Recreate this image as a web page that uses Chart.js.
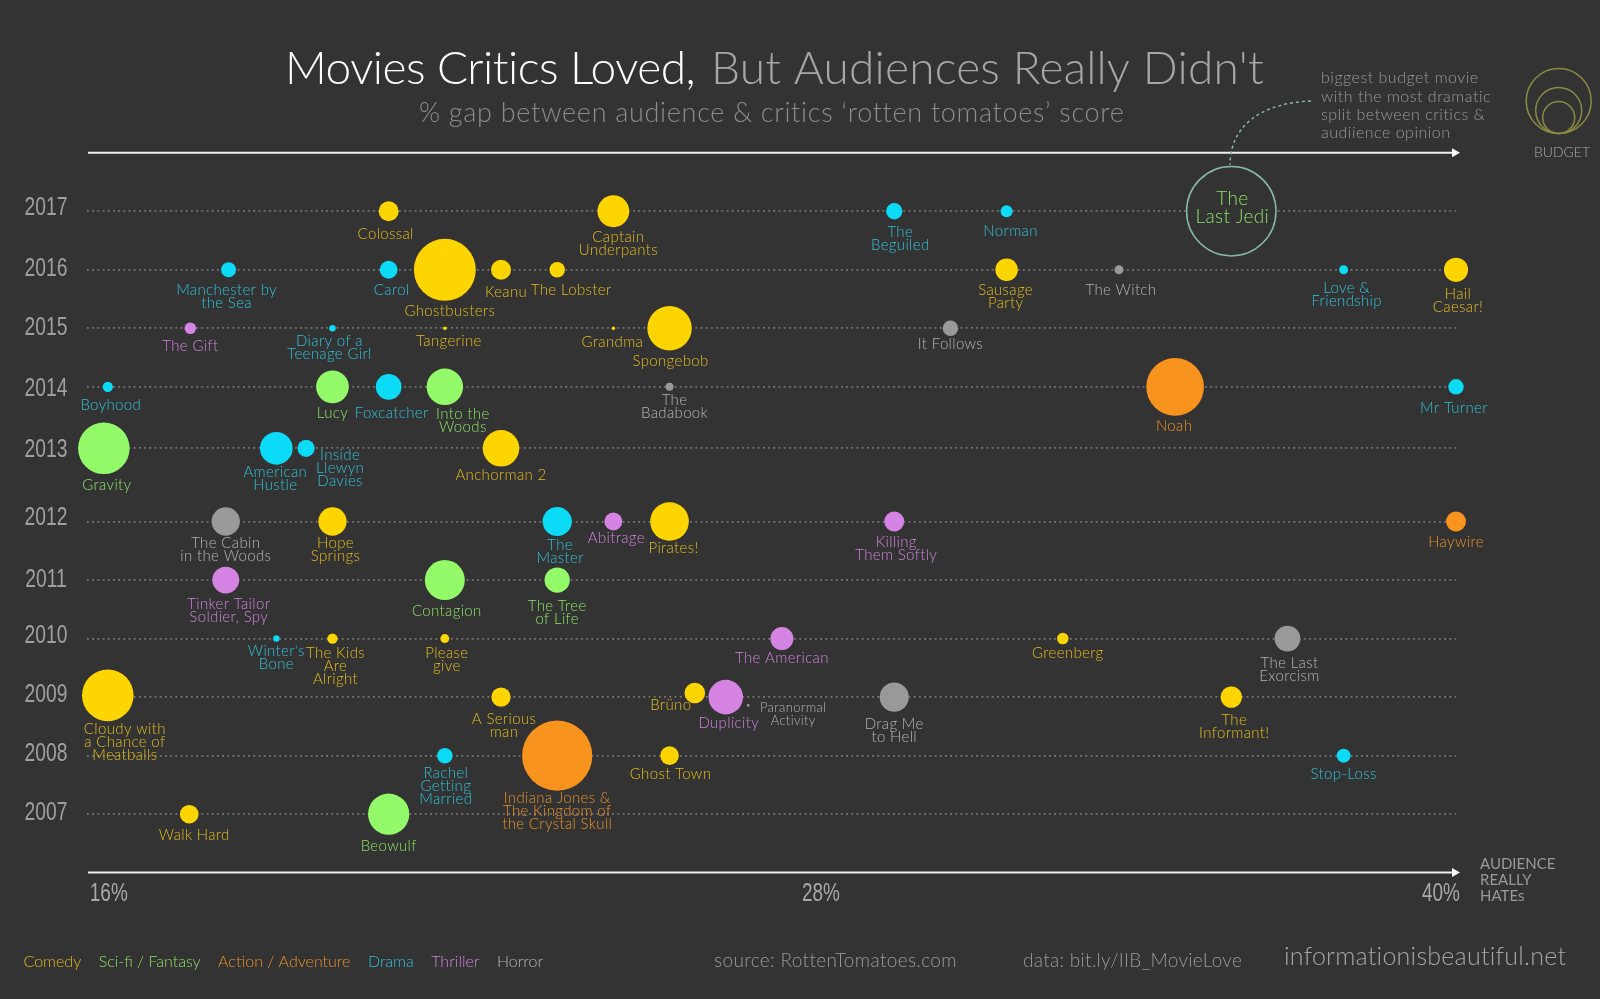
<!DOCTYPE html>
<html>
<head>
<meta charset="utf-8">
<title>Movies Critics Loved, But Audiences Really Didn't</title>
<script src="https://cdn.jsdelivr.net/npm/chart.js@4"></script>
<style>
  html, body { margin: 0; padding: 0; background: #333333; }
  canvas { display: block; }
</style>
</head>
<body>
<canvas id="chart" width="1600" height="999"></canvas>
<script>
// data
const genres = ['Comedy', 'Sci-fi / Fantasy', 'Action / Adventure', 'Drama', 'Thriller', 'Horror'];
const years = [2017, 2016, 2015, 2014, 2013, 2012, 2011, 2010, 2009, 2008, 2007];
const xTicks = [16, 28, 40];

const movieTitles = [
  'Colossal', 'Captain\nUnderpants', 'The\nBeguiled', 'Norman', 'The\nLast Jedi',
  'Manchester by\nthe Sea', 'Carol', 'Ghostbusters', 'Keanu', 'The Lobster', 'Sausage\nParty', 'The Witch', 'Love &\nFriendship', 'Hail\nCaesar!',
  'The Gift', 'Diary of a\nTeenage Girl', 'Tangerine', 'Grandma', 'Spongebob', 'It Follows',
  'Boyhood', 'Lucy', 'Foxcatcher', 'Into the\nWoods', 'The\nBadabook', 'Noah', 'Mr Turner',
  'Gravity', 'American\nHustle', 'Inside\nLlewyn\nDavies', 'Anchorman 2',
  'The Cabin\nin the Woods', 'Hope\nSprings', 'The\nMaster', 'Abitrage', 'Pirates!', 'Killing\nThem Softly', 'Haywire',
  'Tinker Tailor\nSoldier, Spy', 'Contagion', 'The Tree\nof Life',
  "Winter's\nBone", 'The Kids\nAre\nAlright', 'Please\ngive', 'The American', 'Greenberg', 'The Last\nExorcism',
  'Cloudy with\na Chance of\nMeatballs', 'A Serious\nman', 'Brüno', 'Duplicity', 'Paranormal\nActivity', 'Drag Me\nto Hell', 'The\nInformant!',
  'Rachel\nGetting\nMarried', 'Indiana Jones &\nThe Kingdom of\nthe Crystal Skull', 'Ghost Town', 'Stop-Loss',
  'Walk Hard', 'Beowulf'
];
const movieGenres = [
  0, 0, 3, 3, 1,
  3, 3, 0, 0, 0, 0, 5, 3, 0,
  4, 3, 0, 0, 0, 5,
  3, 1, 3, 1, 5, 2, 3,
  1, 3, 3, 0,
  5, 0, 3, 4, 0, 4, 2,
  4, 1, 1,
  3, 0, 0, 4, 0, 5,
  0, 0, 0, 4, 5, 5, 0,
  3, 2, 0, 3,
  0, 1
];
const movieYears = [
  2017, 2017, 2017, 2017, 2017,
  2016, 2016, 2016, 2016, 2016, 2016, 2016, 2016, 2016,
  2015, 2015, 2015, 2015, 2015, 2015,
  2014, 2014, 2014, 2014, 2014, 2014, 2014,
  2013, 2013, 2013, 2013,
  2012, 2012, 2012, 2012, 2012, 2012, 2012,
  2011, 2011, 2011,
  2010, 2010, 2010, 2010, 2010, 2010,
  2009, 2009, 2009, 2009, 2009, 2009, 2009,
  2008, 2008, 2008, 2008,
  2007, 2007
];
const movieGaps = [
  21, 25, 30, 32, 36,
  18.15, 21, 22, 23, 24, 32, 34, 38, 40,
  17.47, 20, 22, 25, 26, 31,
  16, 20, 21, 22, 26, 35, 40,
  15.93, 19, 19.53, 23,
  18.1, 20, 24, 25, 26, 30, 40,
  18.1, 22, 24,
  19, 20, 22, 28, 33, 37,
  16, 23, 26.45, 27, 27.4, 30, 36,
  22, 24, 26, 38,
  17.45, 21
];
const movieBudgets = [
  15, 38, 10, 5.4, 300,
  8.5, 12, 144, 15, 9, 19, 3, 3, 22,
  5, 1.6, 0.5, 0.5, 74, 9,
  4, 40, 25, 50, 2.4, 125, 9,
  100, 40, 11, 50,
  30, 30, 32, 12, 56, 15, 15,
  27, 60, 24,
  1.6, 4, 3, 20, 5, 25,
  100, 14, 16, 45, 0.3, 32, 17,
  9, 185, 13, 7.4,
  13, 64
];

// styling
const bg = '#333333';
const dotColors = ['#FFD500', '#93FA69', '#F8931E', '#0BDBF7', '#D684E3', '#999999'];
const textColors = ['#E3BC1C', '#8BE266', '#EA9026', '#2FC0D8', '#CF82DC', '#B4B4B4'];
const uiFont = 'Lato, "Open Sans", sans-serif';
const axisFont = '"Liberation Sans", sans-serif';

// the 2013 row and everything above it sit a bit higher than the regular spacing
const rowShift = y => y >= 2014 ? 0.3 : y === 2013 ? 0.25 : 0;
const rowNudge = { 'Brüno': 0.07, 'Paranormal\nActivity': -0.14, 'Cloudy with\na Chance of\nMeatballs': 0.03 };
const budgetRadius = b => 2.58 * Math.sqrt(b);

// label offset from the dot centre: dx, dy of the first line
const labelOffsets = {
  'Colossal': [-3, 23], 'Captain\nUnderpants': [5, 26], 'The\nBeguiled': [6, 21], 'Norman': [4, 20], 'The\nLast Jedi': [1, -12],
  'Manchester by\nthe Sea': [-2, 20], 'Carol': [3, 20], 'Ghostbusters': [5, 41], 'Keanu': [5, 22], 'The Lobster': [14, 20],
  'Sausage\nParty': [-1, 20], 'The Witch': [2, 20], 'Love &\nFriendship': [3, 18], 'Hail\nCaesar!': [2, 24],
  'The Gift': [0, 18], 'Diary of a\nTeenage Girl': [-3, 13], 'Tangerine': [4, 13], 'Grandma': [-1, 14], 'Spongebob': [1, 33], 'It Follows': [0, 16],
  'Boyhood': [3, 18], 'Lucy': [0, 26], 'Foxcatcher': [3, 26], 'Into the\nWoods': [18, 27], 'The\nBadabook': [5, 13], 'Noah': [-1, 39], 'Mr Turner': [-2, 21],
  'Gravity': [3, 37], 'American\nHustle': [-1, 24], 'Inside\nLlewyn\nDavies': [34, 7], 'Anchorman 2': [0, 27],
  'The Cabin\nin the Woods': [0, 22], 'Hope\nSprings': [3, 22], 'The\nMaster': [3, 24], 'Abitrage': [3, 17], 'Pirates!': [4, 27], 'Killing\nThem Softly': [2, 21], 'Haywire': [0, 21],
  'Tinker Tailor\nSoldier, Spy': [3, 24], 'Contagion': [2, 31], 'The Tree\nof Life': [0, 26],
  "Winter's\nBone": [0, 12.5], 'The Kids\nAre\nAlright': [3, 15], 'Please\ngive': [2, 15], 'The American': [0, 20], 'Greenberg': [5, 15], 'The Last\nExorcism': [2, 25],
  'Cloudy with\na Chance of\nMeatballs': [17, 34], 'A Serious\nman': [3, 22], 'Brüno': [-24, 12], 'Duplicity': [3, 26], 'Paranormal\nActivity': [45, 3], 'Drag Me\nto Hell': [0, 27], 'The\nInformant!': [3, 23],
  'Rachel\nGetting\nMarried': [1, 18], 'Indiana Jones &\nThe Kingdom of\nthe Crystal Skull': [0, 43], 'Ghost Town': [1, 19], 'Stop-Loss': [0, 19],
  'Walk Hard': [5, 21], 'Beowulf': [0, 32]
};
const xTickShift = { 16: 1, 28: 39, 40: -15 };
// year labels do not sit exactly on their rows in the original
const yearLabelShift = { 2017: -3, 2016: -1, 2015: 0, 2014: 2, 2013: 2, 2012: -3, 2011: 0, 2010: -2, 2009: -2, 2008: -2, 2007: -1 };

function text(ctx, str, x, y, font, color, align, spacing) {
  ctx.font = font;
  ctx.fillStyle = color;
  ctx.textAlign = align || 'left';
  ctx.textBaseline = 'middle';
  ctx.letterSpacing = (spacing || 0) + 'px';
  ctx.fillText(str, x, y);
  ctx.letterSpacing = '0px';
}

// no condensed face is installed, so axis numbers get squeezed sideways
function narrowText(ctx, str, x, y, size, color, squeeze) {
  ctx.save();
  ctx.translate(x, y);
  ctx.scale(squeeze, 1);
  text(ctx, str, 0, 0, size + 'px ' + axisFont, color, 'center');
  ctx.restore();
}

function arrowLine(ctx, x0, x1, y) {
  ctx.strokeStyle = '#eeeeee';
  ctx.lineWidth = 2;
  ctx.beginPath();
  ctx.moveTo(x0, y);
  ctx.lineTo(x1 - 4, y);
  ctx.stroke();
  ctx.fillStyle = '#ffffff';
  ctx.beginPath();
  ctx.moveTo(x1 + 2, y);
  ctx.lineTo(x1 - 6, y - 4.5);
  ctx.lineTo(x1 - 6, y + 4.5);
  ctx.fill();
}

// dot labels sit on top of everything
const movieLabels = {
  id: 'movieLabels',
  afterDatasetsDraw(chart) {
    const ctx = chart.ctx;
    const sx = chart.scales.x, sy = chart.scales.y;
    ctx.save();
    movieTitles.forEach((title, i) => {
      const off = labelOffsets[title];
      const px = sx.getPixelForValue(movieGaps[i]) + off[0];
      const py = sy.getPixelForValue(rowOf(i)) + off[1];
      const big = title === 'The\nLast Jedi';
      const small = title === 'Paranormal\nActivity';
      const font = big ? '300 19px ' + uiFont : small ? '300 13px ' + uiFont : '300 15px ' + uiFont;
      const lh = big ? 18 : 13;
      title.split('\n').forEach((line, n) => {
        text(ctx, line, px, py + n * lh, font, textColors[movieGenres[i]], 'center', big ? 0.3 : 0.35);
      });
    });
    ctx.restore();
  }
};

// title, arrows, budget key, notes and footer
const furniture = {
  id: 'furniture',
  beforeDatasetsDraw(chart) {
    const ctx = chart.ctx;
    const { left, right, top, bottom } = chart.chartArea;
    ctx.save();
    arrowLine(ctx, left + 1, right + 2, top);
    arrowLine(ctx, left + 1, right + 2, bottom);
    ctx.restore();
  },
  afterDraw(chart) {
    const ctx = chart.ctx;
    const sx = chart.scales.x, sy = chart.scales.y;
    const { bottom } = chart.chartArea;
    ctx.save();

    // title in two colours
    const titleFont = '300 46px ' + uiFont;
    text(ctx, 'Movies Critics Loved,', 285, 69, titleFont, '#ffffff', 'left', -0.5);
    text(ctx, "But Audiences Really Didn't", 711, 69, titleFont, '#a6a6a6', 'left', 0.2);
    text(ctx, '% gap between audience & critics ‘rotten tomatoes’ score', 419, 113, '300 27px ' + uiFont, '#8c8c8c', 'left', 0.7);

    // year labels and % ticks
    sy.ticks.forEach(t => {
      const year = Math.floor(t.value);
      narrowText(ctx, String(year), 46, sy.getPixelForValue(t.value) + yearLabelShift[year], 25, '#a0a0a0', 0.77);
    });
    xTicks.forEach(v => {
      narrowText(ctx, v + '%', sx.getPixelForValue(v) + xTickShift[v], bottom + 21, 26, '#a8a8a8', 0.73);
    });
    ['AUDIENCE', 'REALLY', 'HATEs'].forEach((s, n) => {
      text(ctx, s, 1480, 864 + n * 16, '15px ' + uiFont, '#9a9a9a');
    });

    // note and its dashed leader to the Last Jedi circle
    ['biggest budget movie', 'with the most dramatic', 'split between critics &', 'audiience opinion'].forEach((s, n) => {
      text(ctx, s, 1321, 78 + n * 18.4, '300 16px ' + uiFont, '#9a9a9a', 'left', 0.5);
    });
    ctx.strokeStyle = '#86B9A8';
    ctx.lineWidth = 1.5;
    ctx.setLineDash([3, 3]);
    ctx.beginPath();
    ctx.moveTo(1311, 101);
    ctx.bezierCurveTo(1262, 103, 1230, 125, 1230, 165);
    ctx.stroke();
    ctx.setLineDash([]);

    // budget key
    ctx.strokeStyle = '#8C8A44';
    ctx.lineWidth = 1.5;
    [32.5, 23, 16].forEach(r => {
      ctx.beginPath();
      ctx.arc(1558.7, 133.5 - r, r, 0, Math.PI * 2);
      ctx.stroke();
    });
    text(ctx, 'BUDGET', 1562, 152, '300 14px ' + uiFont, '#a8a8a8', 'center');

    // footer
    text(ctx, 'source: RottenTomatoes.com', 714, 961, '300 19px ' + uiFont, '#9a9a9a', 'left', 0.35);
    text(ctx, 'data: bit.ly/IIB_MovieLove', 1023, 961, '300 19px ' + uiFont, '#9a9a9a', 'left', 0.3);
    text(ctx, 'informationisbeautiful.net', 1284, 957, '300 25px ' + uiFont, '#a6a6a6', 'left', 0.25);
    ctx.restore();
  }
};

function rowOf(i) {
  return movieYears[i] + rowShift(movieYears[i]) + (rowNudge[movieTitles[i]] || 0);
}

const datasets = genres.map((genre, g) => ({
  label: genre,
  clip: false,
  data: movieTitles
    .map((title, i) => ({ title, g: movieGenres[i], x: movieGaps[i], y: rowOf(i), r: budgetRadius(movieBudgets[i]) }))
    .filter(d => d.g === g),
  backgroundColor: ctx => ctx.raw && ctx.raw.title === 'The\nLast Jedi' ? bg : dotColors[g],
  borderColor: '#86B9A8',
  borderWidth: ctx => ctx.raw && ctx.raw.title === 'The\nLast Jedi' ? 1.5 : 0
}));

new Chart(document.getElementById('chart'), {
  type: 'bubble',
  data: { datasets },
  plugins: [furniture, movieLabels],
  options: {
    responsive: false,
    animation: false,
    events: [],
    layout: { padding: { left: 6, right: 144, top: 152.7, bottom: 19.3 } },
    scales: {
      x: {
        type: 'linear',
        min: 15.63,
        max: 40,
        afterBuildTicks: s => { s.ticks = xTicks.map(value => ({ value })); },
        afterFit: s => { s.height = 71.7; },
        ticks: { display: false },
        grid: { display: false },
        border: { display: false }
      },
      y: {
        type: 'linear',
        min: 2006.004,
        max: 2018.3,
        afterBuildTicks: s => { s.ticks = years.map(y => ({ value: y + rowShift(y) })); },
        afterFit: s => { s.width = 81; },
        ticks: { display: false },
        grid: { color: '#777777', lineWidth: 1.8, drawTicks: false },
        border: { display: false, dash: [1.8, 3.4] }
      }
    },
    plugins: {
      tooltip: { enabled: false },
      legend: {
        position: 'bottom',
        align: 'start',
        labels: {
          boxWidth: 0,
          padding: 9.5,
          font: { family: uiFont, size: 16, weight: 300 },
          generateLabels: () => genres.map((g, i) => ({
            text: g,
            fontColor: textColors[i],
            fillStyle: 'transparent',
            strokeStyle: 'transparent',
            lineWidth: 0,
            datasetIndex: i
          }))
        }
      }
    }
  }
});
</script>
</body>
</html>
